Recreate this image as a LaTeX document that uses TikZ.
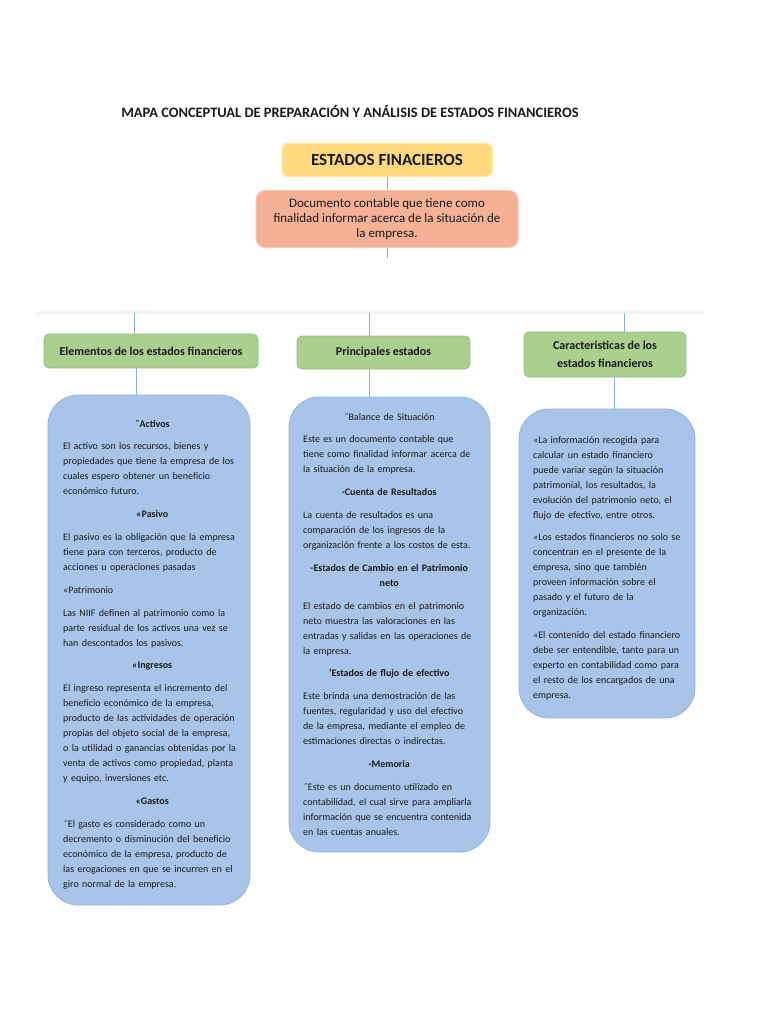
\documentclass[tikz,border=0pt]{standalone}
\usepackage{fontspec}
\setmainfont{Carlito}
\usepackage{tikz}
\usetikzlibrary{calc}
\definecolor{amarillo}{HTML}{FFD97D}
\definecolor{amarilloborde}{HTML}{FFE7A6}
\definecolor{salmon}{HTML}{F5B196}
\definecolor{salmonborde}{HTML}{F8C7B0}
\definecolor{verde}{HTML}{A9D08E}
\definecolor{verdeborde}{HTML}{92C078}
\definecolor{azul}{HTML}{A8C4E8}
\definecolor{azulborde}{HTML}{96B4DE}
\definecolor{conector}{HTML}{8FAADC}
\definecolor{texto}{HTML}{1A1A1A}

\begin{document}
\begin{tikzpicture}[x=1pt,y=-1pt,texto,
	caja amarilla/.style={draw=amarilloborde,line width=1.5pt,fill=amarillo,rounded corners=6pt,
		font=\fontsize{17}{19}\selectfont\bfseries},
	caja salmon/.style={draw=salmonborde,line width=1pt,fill=salmon,rounded corners=9pt,align=center,
		font=\fontsize{13}{15.3}\selectfont},
	caja verde/.style={draw=verdeborde,line width=0.8pt,fill=verde,rounded corners=5pt,align=center,
		font=\fontsize{12}{18}\selectfont\bfseries},
	caja azul/.style={draw=azulborde,line width=0.8pt,fill=azul,rounded corners=30pt},
	columna/.style={anchor=base west,inner sep=0pt,align=left,
		font=\fontsize{10}{15}\selectfont,execute at begin node={\setlength{\parskip}{7.8pt}}},
	linea/.style={draw=conector,line width=0.9pt}]
	\useasboundingbox (0,0) rectangle (768,1024);
	
	\node[font=\fontsize{14.4}{16}\selectfont\bfseries] (titulo) at (350,112)
		{MAPA CONCEPTUAL DE PREPARACIÓN Y ANÁLISIS DE ESTADOS FINANCIEROS};
	\node[caja amarilla,minimum width=210,minimum height=33] (estados) at (387,160) {ESTADOS FINACIEROS};
	\node[caja salmon,minimum width=262,minimum height=57] (definicion) at (387,219)
		{Documento contable que tiene como\\finalidad informar acerca de la situación de\\la empresa.};
	\coordinate (finlinea) at (387,258);
	\draw[linea] (estados) -- (definicion);
	\draw[linea] (definicion) -- (finlinea);
	
	\draw[gray!8,line width=3pt] (37,312) -- (705,312);
	\coordinate (ejeA) at (134,313);
	\coordinate (ejeB) at (369,313);
	\coordinate (ejeC) at (624,313);
	
	\node[caja verde,minimum width=214,minimum height=34] (elementos) at (151,351) {Elementos de los estados financieros};
	\node[caja verde,minimum width=173,minimum height=33] (principales) at (383.5,352.5) {Principales estados};
	\node[caja verde,minimum width=162,minimum height=45] (caracteristicas) at (605,354.5)
		{\raisebox{-2pt}{Caracteristicas de los}\\\raisebox{-2pt}{estados financieros}};
	
	\node[caja azul,minimum width=202,minimum height=510] (cajaA) at (149,650) {};
	\node[caja azul,minimum width=201,minimum height=455] (cajaB) at (389.5,624.5) {};
	\node[caja azul,minimum width=176,minimum height=309] (cajaC) at (607,563.5) {};
	
	\draw[linea] (ejeA) -- (ejeA |- elementos.north);
	\draw[linea] (ejeB) -- (ejeB |- principales.north);
	\draw[linea] (ejeC) -- (ejeC |- caracteristicas.north);
	\draw[linea] ($(elementos.south)+(-15,0)$) -- ($(elementos.south |- cajaA.north)+(-15,0)$);
	\draw[linea] (principales.south -| ejeB) -- (ejeB |- cajaB.north);
	\draw[linea] ($(caracteristicas.south)+(9,0)$) -- ($(caracteristicas.south |- cajaC.north)+(9,0)$);
	
	\node[columna,text width=178] (textoA) at (63,427) {%
		{\centering\bfseries ˝Activos\par}
		El activo son los recursos, bienes y\\propiedades que tiene la empresa de los\\cuales espero obtener un beneficio\\económico futuro.\par
		{\centering\bfseries «Pasivo\par}
		El pasivo es la obligación que la empresa\\tiene para con terceros, producto de\\acciones u operaciones pasadas\par
		«Patrimonio\par
		Las NIIF definen al patrimonio como la\\parte residual de los activos una vez se\\han descontados los pasivos.\par
		{\centering\bfseries «Ingresos\par}
		El ingreso representa el incremento del\\beneficio económico de la empresa,\\producto de las actividades de operación\\propias del objeto social de la empresa,\\o la utilidad o ganancias obtenidas por la\\venta de activos como propiedad, planta\\y equipo, inversiones etc.\par
		{\centering\bfseries «Gastos\par}
		˝El gasto es considerado como un\\decremento o disminución del beneficio\\económico de la empresa, producto de\\las erogaciones en que se incurren en el\\giro normal de la empresa.};
	
	\node[columna,text width=172] (textoB) at (303,420) {%
		{\centering ˝Balance de Situación\par}
		Este es un documento contable que\\tiene como finalidad informar acerca de\\la situación de la empresa.\par
		{\centering\bfseries -Cuenta de Resultados\par}
		La cuenta de resultados es una\\comparación de los ingresos de la\\organización frente a los costos de esta.\par
		{\centering\bfseries -Estados de Cambio en el Patrimonio\\neto\par}
		El estado de cambios en el patrimonio\\neto muestra las valoraciones en las\\entradas y salidas en las operaciones de\\la empresa.\par
		{\centering\bfseries 'Estados de flujo de efectivo\par}
		Este brinda una demostración de las\\fuentes, regularidad y uso del efectivo\\de la empresa, mediante el empleo de\\estimaciones directas o indirectas.\par
		{\centering\bfseries -Memoria\par}
		˝Este es un documento utilizado en\\contabilidad, el cual sirve para ampliarla\\información que se encuentra contenida\\en las cuentas anuales.};
	
	\node[columna,text width=160] (textoC) at (533,443) {%
		«La información recogida para\\calcular un estado financiero\\puede variar según la situación\\patrimonial, los resultados, la\\evolución del patrimonio neto, el\\flujo de efectivo, entre otros.\par
		«Los estados financieros no solo se\\concentran en el presente de la\\empresa, sino que también\\proveen información sobre el\\pasado y el futuro de la\\organización.\par
		«El contenido del estado financiero\\debe ser entendible, tanto para un\\experto en contabilidad como para\\el resto de los encargados de una\\empresa.};
\end{tikzpicture}
\end{document}
